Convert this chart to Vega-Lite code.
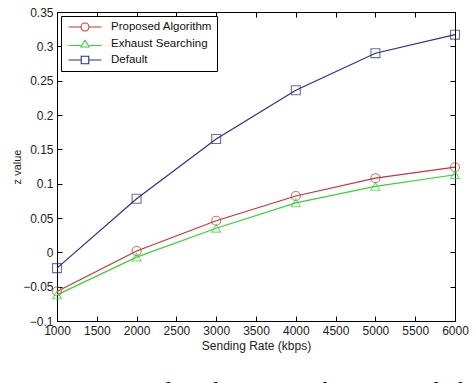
{
  "$schema": "https://vega.github.io/schema/vega-lite/v6.json",
  "autosize": "none",
  "width": 398,
  "height": 309,
  "padding": {"left": 57, "top": 12, "right": 19, "bottom": 62},
  "background": "white",
  "title": {
    "text": "3. Comparison of z value versus the proposed algorithm",
    "orient": "bottom",
    "anchor": "start",
    "frame": "group",
    "offset": 28,
    "dx": -57,
    "font": "Liberation Serif",
    "fontStyle": "italic",
    "fontWeight": "normal",
    "fontSize": 24,
    "color": "#000"
  },
  "config": {
    "view": {"stroke": "#000", "strokeWidth": 1},
    "axis": {
      "grid": false,
      "domainColor": "#000",
      "tickColor": "#000",
      "tickSize": -5,
      "labelOverlap": false,
      "labelFlush": false,
      "labelFont": "Liberation Sans",
      "labelFontSize": 12,
      "labelColor": "#222",
      "titleFont": "Liberation Sans",
      "titleFontSize": 12,
      "titleFontWeight": "normal",
      "titleColor": "#222"
    },
    "legend": {
      "labelFont": "Liberation Sans",
      "labelFontSize": 11.5,
      "labelColor": "#111"
    }
  },
  "data": {
    "values": [
      {"rate": 1000, "z": -0.057, "series": "Proposed Algorithm"},
      {"rate": 2000, "z": 0.002, "series": "Proposed Algorithm"},
      {"rate": 3000, "z": 0.046, "series": "Proposed Algorithm"},
      {"rate": 4000, "z": 0.082, "series": "Proposed Algorithm"},
      {"rate": 5000, "z": 0.108, "series": "Proposed Algorithm"},
      {"rate": 6000, "z": 0.124, "series": "Proposed Algorithm"},
      {"rate": 1000, "z": -0.062, "series": "Exhaust Searching"},
      {"rate": 2000, "z": -0.007, "series": "Exhaust Searching"},
      {"rate": 3000, "z": 0.035, "series": "Exhaust Searching"},
      {"rate": 4000, "z": 0.072, "series": "Exhaust Searching"},
      {"rate": 5000, "z": 0.096, "series": "Exhaust Searching"},
      {"rate": 6000, "z": 0.113, "series": "Exhaust Searching"},
      {"rate": 1000, "z": -0.023, "series": "Default"},
      {"rate": 2000, "z": 0.078, "series": "Default"},
      {"rate": 3000, "z": 0.165, "series": "Default"},
      {"rate": 4000, "z": 0.236, "series": "Default"},
      {"rate": 5000, "z": 0.290, "series": "Default"},
      {"rate": 6000, "z": 0.317, "series": "Default"}
    ]
  },
  "resolve": {
    "scale": {"color": "independent", "shape": "independent"},
    "axis": {"x": "independent", "y": "independent"}
  },
  "layer": [
    {
      "mark": {"type": "line", "strokeWidth": 1.2},
      "encoding": {
        "x": {
          "field": "rate", "type": "quantitative",
          "scale": {"domain": [1000, 6000], "nice": false, "zero": false},
          "axis": {"title": "Sending Rate (kbps)", "values": [1000,1500,2000,2500,3000,3500,4000,4500,5000,5500,6000], "format": "d", "labelPadding": 9, "titlePadding": 4}
        },
        "y": {
          "field": "z", "type": "quantitative",
          "scale": {"domain": [-0.1, 0.35], "nice": false, "zero": false},
          "axis": {"title": "z value", "titleFontSize": 11, "values": [-0.1,-0.05,0,0.05,0.1,0.15,0.2,0.25,0.3,0.35], "format": "~g", "labelPadding": 9, "titlePadding": 0}
        },
        "color": {
          "field": "series", "type": "nominal",
          "scale": {"domain": ["Proposed Algorithm", "Exhaust Searching", "Default"], "range": ["#b83a3a", "#3ccc3c", "#2e2e8a"]},
          "legend": null
        }
      }
    },
    {
      "mark": {"type": "point", "filled": false, "size": 80, "strokeWidth": 1.1},
      "encoding": {
        "x": {"field": "rate", "type": "quantitative", "axis": null},
        "y": {"field": "z", "type": "quantitative", "axis": null},
        "color": {
          "field": "series", "type": "nominal",
          "scale": {"domain": ["Proposed Algorithm", "Exhaust Searching", "Default"], "range": ["#b83a3a", "#3ccc3c", "#2e2e8a"]},
          "legend": null
        },
        "shape": {
          "field": "series", "type": "nominal",
          "scale": {"domain": ["Proposed Algorithm", "Exhaust Searching", "Default"], "range": ["circle", "triangle-up", "square"]},
          "legend": null
        }
      }
    },
    {
      "mark": {"type": "point", "filled": false, "size": 121, "strokeWidth": 1.1, "opacity": 0},
      "encoding": {
        "x": {"field": "rate", "type": "quantitative", "axis": {"orient": "top", "title": null, "labels": false, "values": [1000,1500,2000,2500,3000,3500,4000,4500,5000,5500,6000]}},
        "y": {"field": "z", "type": "quantitative", "axis": {"orient": "right", "title": null, "labels": false, "values": [-0.1,-0.05,0,0.05,0.1,0.15,0.2,0.25,0.3,0.35]}},
        "color": {
          "field": "series", "type": "nominal",
          "scale": {"domain": ["Proposed Algorithm", "Exhaust Searching", "Default"], "range": ["#b83a3a", "#3ccc3c", "#2e2e8a"]},
          "legend": {
            "title": null,
            "orient": "top-left",
            "offset": 4,
            "strokeColor": "#000",
            "fillColor": "#fff",
            "padding": 5,
            "symbolOpacity": 1,
            "symbolStrokeWidth": 1.1,
            "symbolOffset": 13,
            "labelOffset": 20,
            "rowPadding": 4
          }
        },
        "shape": {
          "field": "series", "type": "nominal",
          "scale": {"domain": ["Proposed Algorithm", "Exhaust Searching", "Default"], "range": [
            "M-3.3,0H-0.8M0.8,0H3.3M-0.8,0A0.8,0.8 0 1,1 0.8,0A0.8,0.8 0 1,1 -0.8,0",
            "M-3.3,0.3H-0.85M0.85,0.3H3.3M0,-0.75L0.85,0.6L-0.85,0.6Z",
            "M-3.3,0H-0.75M0.75,0H3.3M-0.75,-0.75H0.75V0.75H-0.75Z"
          ]},
          "legend": {
            "title": null,
            "orient": "top-left",
            "offset": 4,
            "strokeColor": "#000",
            "fillColor": "#fff",
            "padding": 5,
            "symbolOpacity": 1,
            "symbolStrokeWidth": 1.1,
            "symbolOffset": 13,
            "labelOffset": 20,
            "rowPadding": 4
          }
        }
      }
    }
  ]
}
